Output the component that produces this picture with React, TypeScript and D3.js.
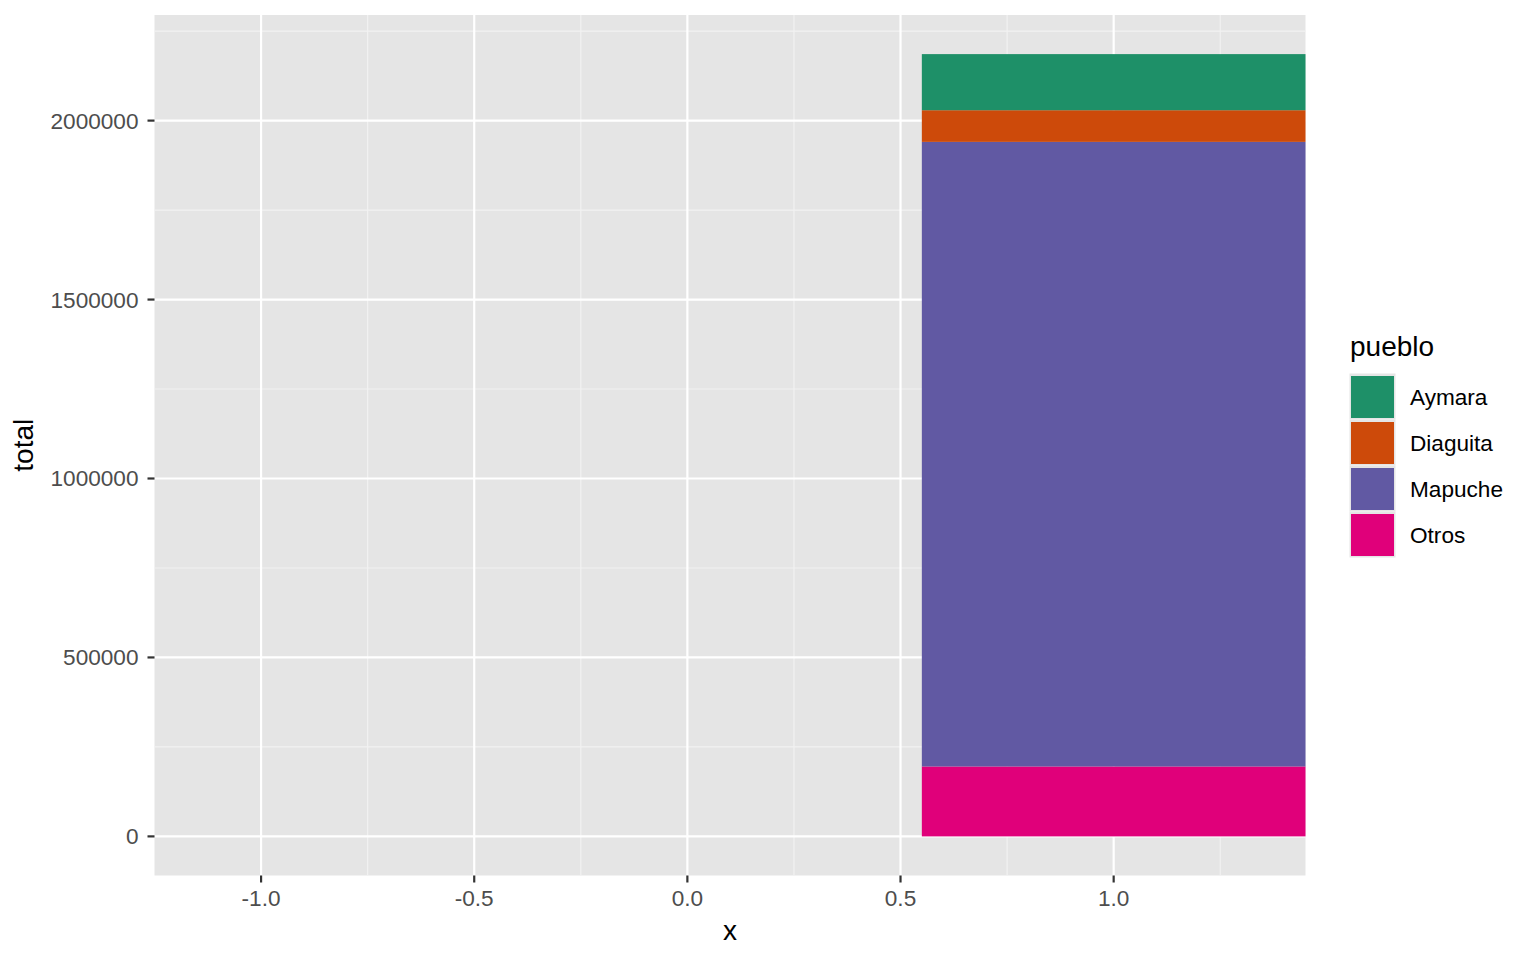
import React from "react";
import * as d3 from "d3";

const pueblos = ["Aymara", "Diaguita", "Mapuche", "Otros"];
const totals = [156754, 88474, 1745147, 195417];
const colors = ["#1E9068", "#CD4A0A", "#6159A3", "#E0007A"];
const xTicks = [-1.0, -0.5, 0.0, 0.5, 1.0];
const xMinor = [-0.75, -0.25, 0.25, 0.75, 1.25];
const yTicks = [0, 500000, 1000000, 1500000, 2000000];
const yMinor = [250000, 750000, 1250000, 1750000, 2250000];
const barX = 1;
const barWidth = 0.9;

export default function App() {
  const W = 1536, H = 960;
  const L = 154.5, R = 1305.5, T = 15, B = 875.5;
  const x = d3.scaleLinear().domain([-1.25, 1.45]).range([L, R]);
  const stackOrder = [3, 2, 1, 0]; // Otros at the bottom
  const total = d3.sum(totals);
  const pad = total * 0.05;
  const y = d3.scaleLinear().domain([-pad, total + pad]).range([B, T]);

  let acc = 0;
  const segs: { i: number; y0: number; y1: number }[] = [];
  for (const i of stackOrder) {
    segs.push({ i, y0: acc, y1: acc + totals[i] });
    acc += totals[i];
  }

  const font = "'Liberation Sans', Arimo, Helvetica, Arial, sans-serif";
  const keyX = 1349.5, keyY0 = 373.5, keyStep = 46;
  const fs = 22.6;

  return (
    <svg width={W} height={H} style={{ position: "absolute", left: 0, top: 0 }} fontFamily={font}>
      <rect x={0} y={0} width={W} height={H} fill="#fff" />
      <rect x={L} y={T} width={R - L} height={B - T} fill="#E5E5E5" />
      {xMinor.map((v) => (
        <line key={"xm" + v} x1={x(v)} x2={x(v)} y1={T} y2={B} stroke="#F2F2F2" strokeWidth={1.1} />
      ))}
      {yMinor.map((v) => (
        <line key={"ym" + v} x1={L} x2={R} y1={y(v)} y2={y(v)} stroke="#F2F2F2" strokeWidth={1.1} />
      ))}
      {xTicks.map((v) => (
        <line key={"xM" + v} x1={x(v)} x2={x(v)} y1={T} y2={B} stroke="#fff" strokeWidth={2.2} />
      ))}
      {yTicks.map((v) => (
        <line key={"yM" + v} x1={L} x2={R} y1={y(v)} y2={y(v)} stroke="#fff" strokeWidth={2.2} />
      ))}
      {segs.map((s) => (
        <rect
          key={s.i}
          x={x(barX - barWidth / 2)}
          width={x(barX + barWidth / 2) - x(barX - barWidth / 2)}
          y={y(s.y1)}
          height={y(s.y0) - y(s.y1)}
          fill={colors[s.i]}
        />
      ))}
      {xTicks.map((v) => (
        <g key={"xt" + v}>
          <line x1={x(v)} x2={x(v)} y1={B} y2={B + 7} stroke="#333" strokeWidth={2.2} />
          <text x={x(v)} y={B + 30.5} textAnchor="middle" fontSize={fs} fill="#4D4D4D">
            {v.toFixed(1)}
          </text>
        </g>
      ))}
      {yTicks.map((v) => (
        <g key={"yt" + v}>
          <line x1={L - 7} x2={L} y1={y(v)} y2={y(v)} stroke="#333" strokeWidth={2.2} />
          <text x={L - 16} y={y(v) + 8} textAnchor="end" fontSize={fs} fill="#4D4D4D">
            {String(v)}
          </text>
        </g>
      ))}
      <text x={(L + R) / 2} y={940} textAnchor="middle" fontSize={28} fill="#000">x</text>
      <text
        transform={`translate(33,${(T + B) / 2}) rotate(-90)`}
        textAnchor="middle"
        fontSize={28}
        fill="#000"
      >
        total
      </text>
      <text x={1350} y={356} fontSize={28} fill="#000">pueblo</text>
      {pueblos.map((p, i) => (
        <g key={p}>
          <rect x={keyX} y={keyY0 + i * keyStep} width={46} height={46} fill="#E5E5E5" />
          <rect x={keyX + 1.5} y={keyY0 + i * keyStep + 2.5} width={43} height={42} fill={colors[i]} />
          <text x={1410} y={keyY0 + i * keyStep + 23 + 8} fontSize={fs} fill="#000">
            {p}
          </text>
        </g>
      ))}
    </svg>
  );
}
